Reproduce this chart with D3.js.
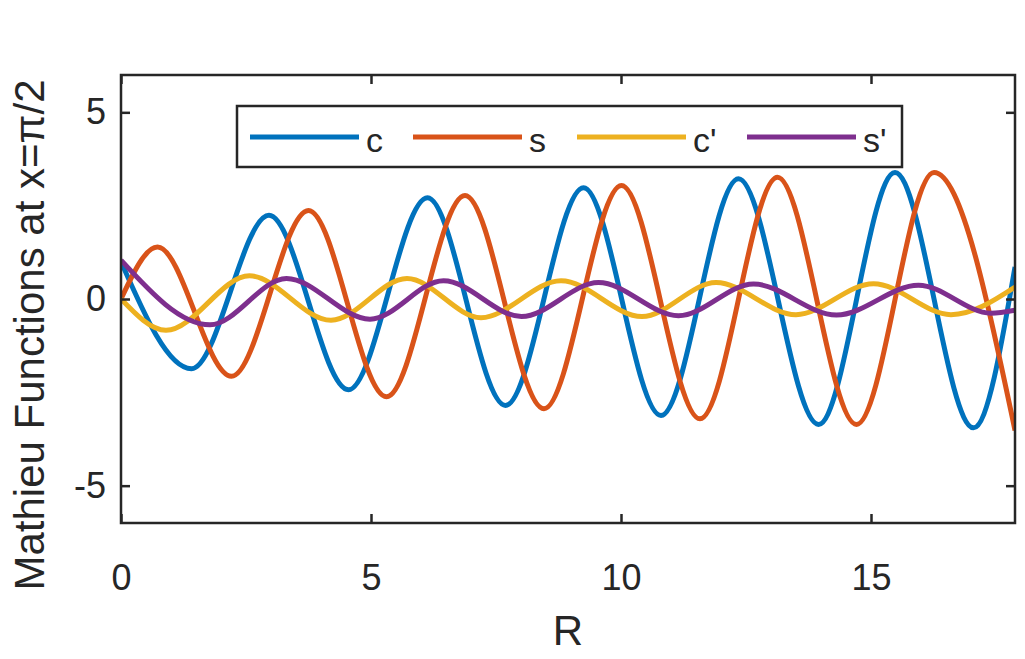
<!DOCTYPE html>
<html>
<head>
<meta charset="utf-8">
<script src="https://cdn.jsdelivr.net/npm/d3@7"></script>
<style>
  body { margin: 0; background: #fff; }
  svg { display: block; }
</style>
</head>
<body>
<figure style="margin:0"></figure>
<script>
const seriesNames = ["c", "s", "c'", "s'"];
const seriesColors = ["#0072BD", "#D95319", "#EDB120", "#7E2F8E"];

// turning points (R, value)
const cR = [0, 1.41, 2.96, 4.55, 6.13, 7.69, 9.25, 10.8, 12.35, 13.95, 15.48, 17.05, 17.88];
const cV = [1.0, -1.87, 2.24, -2.43, 2.71, -2.85, 2.98, -3.12, 3.22, -3.36, 3.39, -3.45, 0.86];

const sR = [0, 0.73, 2.21, 3.75, 5.31, 6.88, 8.46, 10.01, 11.58, 13.13, 14.71, 16.26, 17.88];
const sV = [0, 1.39, -2.07, 2.37, -2.62, 2.77, -2.94, 3.04, -3.21, 3.26, -3.36, 3.39, -3.52];

const cpR = [0, 0.9, 2.57, 4.2, 5.72, 7.2, 8.8, 10.42, 11.9, 13.5, 15.05, 16.6, 17.88];
const cpV = [0, -0.84, 0.62, -0.57, 0.55, -0.5, 0.49, -0.47, 0.44, -0.42, 0.41, -0.42, 0.32];

const spR = [0, 1.78, 3.31, 4.98, 6.45, 8.01, 9.55, 11.15, 12.65, 14.31, 15.95, 17.4, 17.88];
const spV = [1.04, -0.69, 0.55, -0.54, 0.49, -0.47, 0.44, -0.45, 0.4, -0.43, 0.37, -0.38, -0.3];

const xTicks = [0, 5, 10, 15];
const yTicks = [-5, 0, 5];

const series = [
  [cR, cV],
  [sR, sV],
  [cpR, cpV],
  [spR, spV],
].map(([rs, vs], i) => ({
  name: seriesNames[i],
  color: seriesColors[i],
  points: rs.map((r, j) => [r, vs[j]]),
}));

const width = 1025;
const height = 659;
const margin = { top: 75, right: 10, bottom: 136, left: 121 };
const axisColor = "#262626";
const font = "Arial, 'Liberation Sans', Helvetica, sans-serif";
const tickFont = 36;
const labelFont = 42;

const svg = d3
  .select("figure")
  .append("svg")
  .attr("width", width)
  .attr("height", height);

const x = d3
  .scaleLinear()
  .domain([0, 17.88])
  .range([margin.left, width - margin.right]);
const y = d3
  .scaleLinear()
  .domain([-6, 6])
  .range([height - margin.bottom, margin.top]);

svg
  .append("defs")
  .append("clipPath")
  .attr("id", "plot-clip")
  .append("rect")
  .attr("x", x.range()[0])
  .attr("y", y.range()[1])
  .attr("width", x.range()[1] - x.range()[0])
  .attr("height", y.range()[0] - y.range()[1]);

const line = d3
  .line()
  .x((d) => x(d[0]))
  .y((d) => y(d[1]))
  .curve(d3.curveMonotoneX);

svg
  .append("g")
  .attr("clip-path", "url(#plot-clip)")
  .selectAll("path")
  .data(series)
  .join("path")
  .attr("d", (d) => line(d.points))
  .attr("fill", "none")
  .attr("stroke", (d) => d.color)
  .attr("stroke-width", 5)
  .attr("stroke-linejoin", "round");

// axes (MATLAB style box with inward ticks)
const tickLen = 9;
const plain = (d) => String(d); // hyphen minus, like the original
const tickStyle = (g) => {
  g.select(".domain").remove();
  g.selectAll(".tick line").attr("stroke", axisColor).attr("stroke-width", 2.5);
  g.selectAll(".tick text")
    .attr("fill", axisColor)
    .attr("font-family", font)
    .attr("font-size", tickFont);
};

svg
  .append("g")
  .attr("transform", `translate(0,${y.range()[0]})`)
  .call(d3.axisBottom(x).tickValues(xTicks).tickFormat(plain).tickSizeInner(-tickLen).tickSizeOuter(0).tickPadding(41))
  .call(tickStyle);

svg
  .append("g")
  .attr("transform", `translate(0,${y.range()[1]})`)
  .call(d3.axisTop(x).tickValues(xTicks).tickSizeInner(-tickLen).tickSizeOuter(0).tickFormat(""))
  .call(tickStyle);

svg
  .append("g")
  .attr("transform", `translate(${x.range()[0]},0)`)
  .call(d3.axisLeft(y).tickValues(yTicks).tickFormat(plain).tickSizeInner(-tickLen).tickSizeOuter(0).tickPadding(15))
  .call(tickStyle);

svg
  .append("g")
  .attr("transform", `translate(${x.range()[1]},0)`)
  .call(d3.axisRight(y).tickValues(yTicks).tickSizeInner(-tickLen).tickSizeOuter(0).tickFormat(""))
  .call(tickStyle);

svg
  .append("rect")
  .attr("x", x.range()[0])
  .attr("y", y.range()[1])
  .attr("width", x.range()[1] - x.range()[0])
  .attr("height", y.range()[0] - y.range()[1])
  .attr("fill", "none")
  .attr("stroke", axisColor)
  .attr("stroke-width", 2.5);

// axis labels
svg
  .append("text")
  .attr("x", (x.range()[0] + x.range()[1]) / 2)
  .attr("y", 645)
  .attr("text-anchor", "middle")
  .attr("font-family", font)
  .attr("font-size", labelFont)
  .attr("fill", axisColor)
  .text("R");

svg
  .append("text")
  .attr("transform", "translate(44,335) rotate(-90)")
  .attr("text-anchor", "middle")
  .attr("font-family", font)
  .attr("font-size", labelFont)
  .attr("fill", axisColor)
  .text("Mathieu Functions at x=\u03c0/2");

// legend
const legend = svg.append("g").attr("transform", "translate(237,106)");
legend
  .append("rect")
  .attr("width", 665)
  .attr("height", 61)
  .attr("fill", "#fff")
  .attr("stroke", axisColor)
  .attr("stroke-width", 2.5);

const legendX = [13, 176, 340, 510];
const entry = legend
  .selectAll("g.entry")
  .data(series)
  .join("g")
  .attr("class", "entry")
  .attr("transform", (_, i) => `translate(${legendX[i]},31)`);

entry
  .append("line")
  .attr("x1", 0)
  .attr("x2", 109)
  .attr("stroke", (d) => d.color)
  .attr("stroke-width", 5);

entry
  .append("text")
  .attr("x", 116)
  .attr("y", 15)
  .attr("font-family", font)
  .attr("font-size", 34)
  .attr("fill", axisColor)
  .text((d) => d.name);
</script>
</body>
</html>
